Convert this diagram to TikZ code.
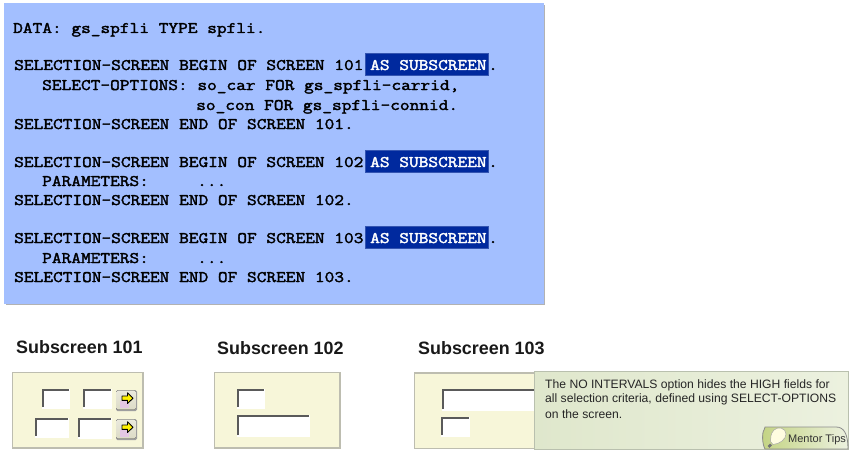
\documentclass[tikz,border=0pt]{standalone}
\usepackage{fontspec}
\setmainfont{Liberation Sans}
\newfontfamily\codefont{Latin Modern Mono}[FakeStretch=1.17,FakeBold=2.2]
\usetikzlibrary{calc,shadows}
\definecolor{panelblue}{HTML}{A3BFFF}
\definecolor{hlblue}{HTML}{00299E}
\definecolor{screenbg}{HTML}{F7F6D9}
\definecolor{screenedge}{HTML}{BDBDB0}
\definecolor{tipedge}{HTML}{B9C0AE}
\definecolor{fieldedge}{HTML}{5A5A5A}
\definecolor{tipleft}{HTML}{DFE7CC}
\definecolor{tipright}{HTML}{ECF1DF}
\definecolor{tabgreen}{HTML}{C4D484}
\definecolor{btnface}{HTML}{DCDBC6}
\tikzset{
  x=1pt,y=-1pt,
  codeline/.style={anchor=base west,inner sep=0pt,font=\codefont\fontsize{16.1}{18}\selectfont,text=black},
  hlbox/.style={fill=hlblue,draw=hlblue!80!white,line width=0.7pt,minimum width=123pt,minimum height=22pt,inner sep=0pt},
  hltext/.style={anchor=base west,inner sep=0pt,font=\codefont\fontsize{16.1}{18}\selectfont,text=white},
  subtitle/.style={anchor=base west,inner sep=0pt,font=\bfseries\fontsize{17.9}{20}\selectfont,text=black!90},
  screenbox/.style={fill=screenbg,draw=screenedge,line width=1.2pt},
  tiptext/.style={anchor=base west,inner sep=0pt,font=\fontsize{12.15}{15}\selectfont,text=black!85},
}
\newcommand{\field}[4]{%
  \fill[white] (#1,#2) rectangle (#3,#4);
  \draw[fieldedge,line width=1.7pt] (#1+0.8,#4-2) -- (#1+0.8,#2+0.8) -- (#3-1,#2+0.8);
}
\newcommand{\arrowbtn}[2]{%
  \begin{scope}[shift={(#1,#2)}]
    \fill[rounded corners=1.5pt,fill=black!38] (0,0) rectangle (21,21);
    \fill[rounded corners=1.5pt,top color=btnface!60!white,bottom color=btnface] (0.4,0.4) rectangle (19.8,19.6);
    \fill[fill=violet!22] (3.5,11) rectangle (13,18);
    \fill[yellow,draw=black,line width=0.9pt,line join=round] (6,6) -- (11.5,6) -- (11.5,2.8) -- (17,8.2) -- (11.5,13.5) -- (11.5,10.4) -- (6,10.4) -- cycle;
  \end{scope}
}
\begin{document}
\begin{tikzpicture}
\useasboundingbox (0,0) rectangle (856,460);
\fill[black!30] (6,5) rectangle (545,305);
\fill[panelblue] (4,3) rectangle (544,304);

\node[codeline] (l1) at (13,33) {DATA: gs\_spfli TYPE spfli.};

\node[hlbox] (h1) at (427,64.5) {};
\node[hlbox] (h2) at (427,161.5) {};
\node[hlbox] (h3) at (427,237.5) {};

\node[codeline] (l2) at (14,70) {SELECTION-SCREEN BEGIN OF SCREEN 101};
\node[hltext] (t1) at (370,70) {AS SUBSCREEN};
\node[codeline] (p1) at (488,70) {.};
\node[codeline] (l3) at (42,90) {SELECT-OPTIONS: so\_car FOR gs\_spfli-carrid,};
\node[codeline] (l4) at (196,110) {so\_con FOR gs\_spfli-connid.};
\node[codeline] (l5) at (14,129) {SELECTION-SCREEN END OF SCREEN 101.};

\node[codeline] (l6) at (14,167) {SELECTION-SCREEN BEGIN OF SCREEN 102};
\node[hltext] (t2) at (370,167) {AS SUBSCREEN};
\node[codeline] (p2) at (488,167) {.};
\node[codeline] (l7) at (42,186) {PARAMETERS:};
\node[codeline] (l7b) at (197,186) {...};
\node[codeline] (l8) at (14,205) {SELECTION-SCREEN END OF SCREEN 102.};

\node[codeline] (l9) at (14,243) {SELECTION-SCREEN BEGIN OF SCREEN 103};
\node[hltext] (t3) at (370,243) {AS SUBSCREEN};
\node[codeline] (p3) at (488,243) {.};
\node[codeline] (l10) at (42,263) {PARAMETERS:};
\node[codeline] (l10b) at (197,263) {...};
\node[codeline] (l11) at (14,282) {SELECTION-SCREEN END OF SCREEN 103.};

\node[subtitle] (s1) at (16,353) {Subscreen 101};
\node[subtitle] (s2) at (217,354) {Subscreen 102};
\node[subtitle] (s3) at (418,354) {Subscreen 103};

% Subscreen 101
\draw[screenbox] (12.5,372.5) rectangle (143,448);
\field{42}{389}{70}{409}
\field{83}{389}{112}{409}
\field{35}{418}{69}{438}
\field{78}{418}{112}{439}
\arrowbtn{116}{390}
\arrowbtn{116}{419}

% Subscreen 102
\draw[screenbox] (214.5,372.5) rectangle (340,448);
\field{237}{389}{265}{409}
\field{237}{415}{310}{437}

% Subscreen 103
\draw[screenbox] (414.5,373) rectangle (540,448.5);
\field{442}{389}{540}{411}
\field{441}{417}{470}{437}

% Tip box
\draw[tipedge,line width=1pt,left color=tipleft,right color=tipright] (534.5,371.5) rectangle (848,449);
\node[tiptext] (tip1) at (545,388) {The NO INTERVALS option hides the HIGH fields for};
\node[tiptext] (tip2) at (545,402) {all selection criteria, defined using SELECT-OPTIONS};
\node[tiptext] (tip3) at (545,418) {on the screen.};

% Mentor tab
\draw[black!45,line width=0.8pt,left color=tabgreen,right color=tipright]
  (765,449) .. controls (762,444) and (762,432) .. (764,430) -- (765,427) -- (836,427) .. controls (844,427) and (848,434) .. (848,449) -- cycle;
\draw[black!55,line width=2.5pt] (768.5,447) -- (771,444.5);
\draw[black!35,fill=yellow!12!white,line width=0.5pt] (770.5,441.5) -- (773,444.5) .. controls (780,444) and (786,439) .. (786,434) .. controls (786,428) and (778,426) .. (774,430) .. controls (770,434) and (771,438) .. (770.5,441.5) -- cycle;
\node[anchor=base west,inner sep=0pt,font=\fontsize{11}{14}\selectfont,text=black!80] (mt) at (788,442) {Mentor Tips};
\end{tikzpicture}
\end{document}
